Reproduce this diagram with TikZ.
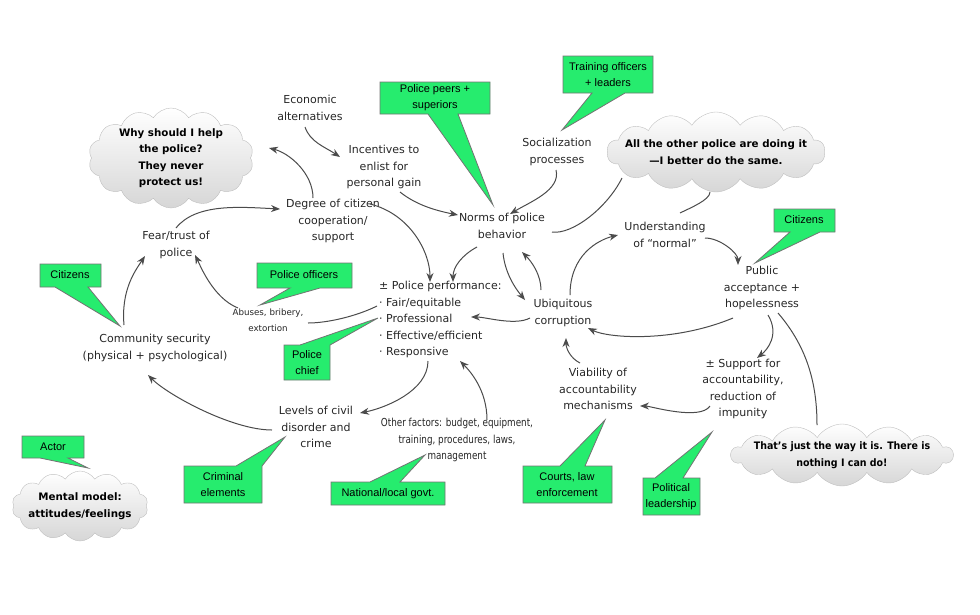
\documentclass[tikz,border=0pt]{standalone}
\usepackage{fontspec}
\setmainfont{DejaVu Sans}
\newfontfamily\calfont{Liberation Sans}
\usetikzlibrary{shapes.symbols,arrows.meta,calc}
\definecolor{actgreen}{RGB}{38,236,110}
\definecolor{arrgray}{RGB}{75,75,75}
\tikzset{
 lbl/.style={align=center,inner sep=1pt,font=\fontsize{11}{16.4}\selectfont,text=black!85},
 arr/.style={draw=arrgray,line width=1pt,-{Stealth[length=9pt,width=7pt]}},
 ln/.style={draw=arrgray,line width=1pt},
 act/.style={fill=actgreen,draw=black!55,line width=0.8pt},
 acttxt/.style={align=center,font=\calfont\fontsize{11}{16}\selectfont,inner sep=0pt},
 thought/.style={cloud,cloud puffs=14,cloud puff arc=115,cloud ignores aspect,inner sep=0pt,draw=black!25,top color=white,bottom color=black!16},
 ttxt/.style={align=center,font=\bfseries\fontsize{10.3}{16.4}\selectfont,inner sep=0pt}
}
\begin{document}
\begin{tikzpicture}[x=1pt,y=-1pt]
\useasboundingbox (0,0) rectangle (980,614);
% clouds
\node[thought,minimum width=165,minimum height=100] (why) at (171,158) {};
\node[ttxt] (whyt) at (why) {Why should I help\\the police?\\They never\\protect us!};
\node[thought,minimum width=218,minimum height=80] (all) at (716,152) {};
\node[ttxt] (allt) at (all) {All the other police are doing it\\---I better do the same.};
\node[thought,minimum width=222,minimum height=62] (way) at (842,455) {};
\node[ttxt,xscale=0.92] (wayt) at (way) {That’s just the way it is. There is\\nothing I can do!};
\node[thought,minimum width=136,minimum height=70] (mm) at (80,506) {};
\node[ttxt] (mmt) at (mm) {Mental model:\\attitudes/feelings};
% text nodes
\node[lbl] (econ) at (310,108) {Economic\\alternatives};
\node[lbl] (inc) at (384,167) {Incentives to\\enlist for\\personal gain};
\node[lbl] (soc) at (557,152) {Socialization\\processes};
\node[lbl] (norms) at (502,226) {Norms of police\\behavior};
\node[lbl] (deg) at (333,221) {Degree of citizen\\cooperation/\\support};
\node[lbl] (fear) at (176,245) {Fear/trust of\\police};
\node[lbl] (und) at (665,235) {Understanding\\of “normal”};
\node[lbl] (pub) at (762,288) {Public\\acceptance +\\hopelessness};
\node[lbl,align=left,anchor=north west,font=\fontsize{11}{16.6}\selectfont] (perf) at (378,280) {± Police performance:\\· Fair/equitable\\· Professional\\· Effective/efficient\\· Responsive};
\node[lbl,font=\fontsize{8.7}{16}\selectfont] (abu) at (268,320) {Abuses, bribery,\\extortion};
\node[lbl] (ubi) at (563,313) {Ubiquitous\\corruption};
\node[lbl] (comm) at (155,348) {Community security\\(physical + psychological)};
\node[lbl] (via) at (598,389) {Viability of\\accountability\\mechanisms};
\node[lbl] (sup) at (743,389) {± Support for\\accountability,\\reduction of\\impunity};
\node[lbl] (lev) at (316,427) {Levels of civil\\disorder and\\crime};
\node[lbl,xscale=0.8] (oth) at (457,440) {Other factors: budget, equipment,\\training, procedures, laws,\\management};
% connectors
\draw[arr] ($(econ)+(-5,19)$) .. controls +(5,15) and +(-15,-10) .. ($(inc)+(-44,-10)$);
\draw[arr] ($(inc)+(16,25)$) .. controls +(15,12) and +(-25,-5) .. ($(norms)+(-44,-11)$);
\draw[arr] ($(soc)+(-1,18)$) .. controls +(5,20) and +(20,-12) .. ($(norms)+(8,-12)$);
\draw[ln] ($(all)+(-94,26)$) .. controls +(-15,30) and +(20,3) .. ($(norms)+(50,6)$);
\draw[ln] ($(all)+(-6,40)$) .. controls +(0,8) and +(10,-5) .. ($(und)+(15,-22)$);
\draw[arr] ($(und)+(40,3)$) .. controls +(15,0) and +(0,-12) .. ($(pub)+(-24,-23)$);
\draw[arr] ($(norms)+(1,27)$) .. controls +(2,20) and +(-10,-12) .. ($(ubi)+(-38,-13)$);
\draw[arr] ($(ubi)+(-22,-23)$) .. controls +(0,-15) and +(10,10) .. ($(norms)+(20,26)$);
\draw[arr] ($(norms)+(-25,21)$) .. controls +(-15,8) and +(0,-15) .. ($(perf.north west)+(75,2)$);
\draw[arr] ($(deg)+(37,-17)$) .. controls +(40,10) and +(0,-30) .. ($(perf.north west)+(52,2)$);
\draw[arr] ($(deg)+(-20,-23)$) .. controls +(0,-25) and +(20,5) .. ($(why)+(98,-10)$);
\draw[arr] ($(fear)+(0,-17)$) .. controls +(20,-25) and +(-40,-2) .. ($(deg)+(-53,-12)$);
\draw[arr] ($(comm)+(-31,-23)$) .. controls +(-3,-35) and +(-10,15) .. ($(fear)+(-31,11)$);
\draw[arr] ($(abu)+(-30,-12)$) .. controls +(-25,-10) and +(5,10) .. ($(fear)+(19,10)$);
\draw[ln] ($(perf.north west)+(-1,26)$) .. controls +(-20,10) and +(20,0) .. ($(abu)+(40,3)$);
\draw[arr] ($(ubi)+(-33,5)$) .. controls +(-15,8) and +(15,0) .. ($(perf.north west)+(93,37)$);
\draw[arr] ($(ubi)+(7,-18)$) .. controls +(0,-40) and +(-20,5) .. ($(und)+(-47,0)$);
\draw[arr] ($(pub)+(-29,30)$) .. controls +(-60,25) and +(20,10) .. ($(ubi)+(25,15)$);
\draw[arr] ($(pub)+(6,27)$) .. controls +(12,20) and +(10,-8) .. ($(sup)+(14,-31)$);
\draw[ln] ($(pub)+(16,25)$) .. controls +(30,35) and +(0,-40) .. ($(way)+(-25,-30)$);
\draw[arr] ($(sup)+(-33,17)$) .. controls +(-10,15) and +(10,0) .. ($(via)+(42,17)$);
\draw[arr] ($(via)+(-18,-26)$) .. controls +(-10,-5) and +(0,10) .. ($(ubi)+(3,25)$);
\draw[arr] ($(perf.north west)+(50,81)$) .. controls +(0,30) and +(25,-5) .. ($(lev)+(44,-14)$);
\draw[arr] ($(lev)+(-44,3)$) .. controls +(-40,0) and +(20,20) .. ($(comm)+(-7,27)$);
\draw[arr] ($(oth)+(30,-20)$) .. controls +(0,-30) and +(10,10) .. ($(perf.north west)+(82,81)$);
% actor callouts
\path[act] (380,82) -- (490,82) -- (490,114) -- (458,114) -- (493,205) -- (428,114) -- (380,114) -- cycle;
\node[acttxt] (peers) at (435,98) {Police peers +\\superiors};
\path[act] (563,56) -- (653,56) -- (653,93) -- (625,93) -- (562,130) -- (592,93) -- (563,93) -- cycle;
\node[acttxt] (train) at (608,75) {Training officers\\+ leaders};
\path[act] (774,209) -- (835,209) -- (835,232) -- (820,232) -- (755,263) -- (790,232) -- (774,232) -- cycle;
\node[acttxt] (citr) at (804,220) {Citizens};
\path[act] (40,264) -- (101,264) -- (101,287) -- (88,287) -- (120,326) -- (55,287) -- (40,287) -- cycle;
\node[acttxt] (citl) at (70,275) {Citizens};
\path[act] (257,263) -- (352,263) -- (352,288) -- (320,288) -- (260,305) -- (290,288) -- (257,288) -- cycle;
\node[acttxt] (off) at (304,275) {Police officers};
\path[act] (284,345) -- (300,345) -- (378,318) -- (330,345) -- (330,380) -- (284,380) -- cycle;
\node[acttxt] (chief) at (307,363) {Police\\chief};
\path[act] (22,436) -- (84,436) -- (84,458) -- (68,458) -- (88,468) -- (40,458) -- (22,458) -- cycle;
\node[acttxt] (actor) at (53,447) {Actor};
\path[act] (184,466) -- (236,466) -- (285,437) -- (262,466) -- (262,503) -- (184,503) -- cycle;
\node[acttxt] (crim) at (223,485) {Criminal\\elements};
\path[act] (331,482) -- (370,482) -- (425,455) -- (400,482) -- (445,482) -- (445,505) -- (331,505) -- cycle;
\node[acttxt] (govt) at (388,494) {National/local govt.};
\path[act] (523,466) -- (560,466) -- (605,420) -- (585,466) -- (612,466) -- (612,503) -- (523,503) -- cycle;
\node[acttxt] (courts) at (567,485) {Courts, law\\enforcement};
\path[act] (643,478) -- (655,478) -- (712,432) -- (683,478) -- (700,478) -- (700,515) -- (643,515) -- cycle;
\node[acttxt] (pol) at (671,497) {Political\\leadership};
\end{tikzpicture}
\end{document}
